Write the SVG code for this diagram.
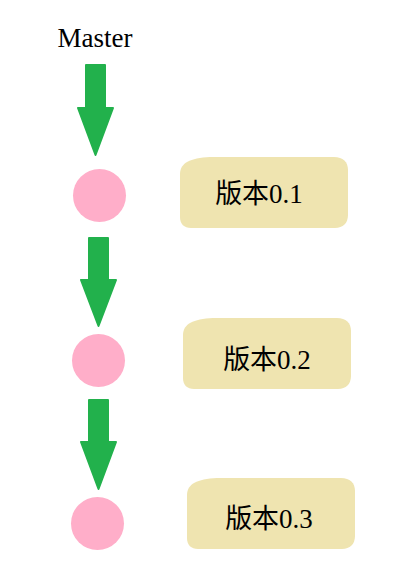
<svg xmlns="http://www.w3.org/2000/svg" width="404" height="579" viewBox="0 0 404 579">
<style>
.arrow{fill:#22b14c;stroke:#22b14c;stroke-width:2;stroke-linejoin:round}
.commit{fill:#ffaec9}
.box{fill:#efe4b0}
.lbl{font-family:"Liberation Serif","Noto Sans CJK SC",serif;font-size:27px;fill:#000}
</style>
<defs>
<path id="boxshape" d="M0,17 C0,6 10,1 30,0 L154,0 C163,0 168,5 168,13 L168,58 C168,66 163,71 155,71 L11,71 C4,71 0,67 0,60 Z"/>
</defs>
<rect width="404" height="579" fill="#fff"/>
<g id="master-label">
<text class="lbl" x="95" y="47" text-anchor="middle">Master</text>
</g>
<g id="connectors">
<path class="arrow" d="M86,65 L105,65 L105,108 L113,108 L95.5,155 L78,108 L86,108 Z"/>
<path class="arrow" d="M89,238 L108,238 L108,280 L116,280 L98.5,326 L81,280 L89,280 Z"/>
<path class="arrow" d="M89,400 L108,400 L108,442 L116,442 L98.5,489 L81,442 L89,442 Z"/>
</g>
<g id="commit1"><circle class="commit" cx="99.5" cy="195.5" r="26.5"/></g>
<g id="commit2"><circle class="commit" cx="98.5" cy="360.5" r="26.5"/></g>
<g id="commit3"><circle class="commit" cx="97.5" cy="523.5" r="26.5"/></g>
<g id="v01">
<use href="#boxshape" class="box" x="180" y="157"/>
<text class="lbl" x="259" y="203" text-anchor="middle">版本0.1</text>
</g>
<g id="v02">
<use href="#boxshape" class="box" x="183" y="318"/>
<text class="lbl" x="267" y="369" text-anchor="middle">版本0.2</text>
</g>
<g id="v03">
<use href="#boxshape" class="box" x="187" y="478"/>
<text class="lbl" x="269" y="528" text-anchor="middle">版本0.3</text>
</g>
</svg>
